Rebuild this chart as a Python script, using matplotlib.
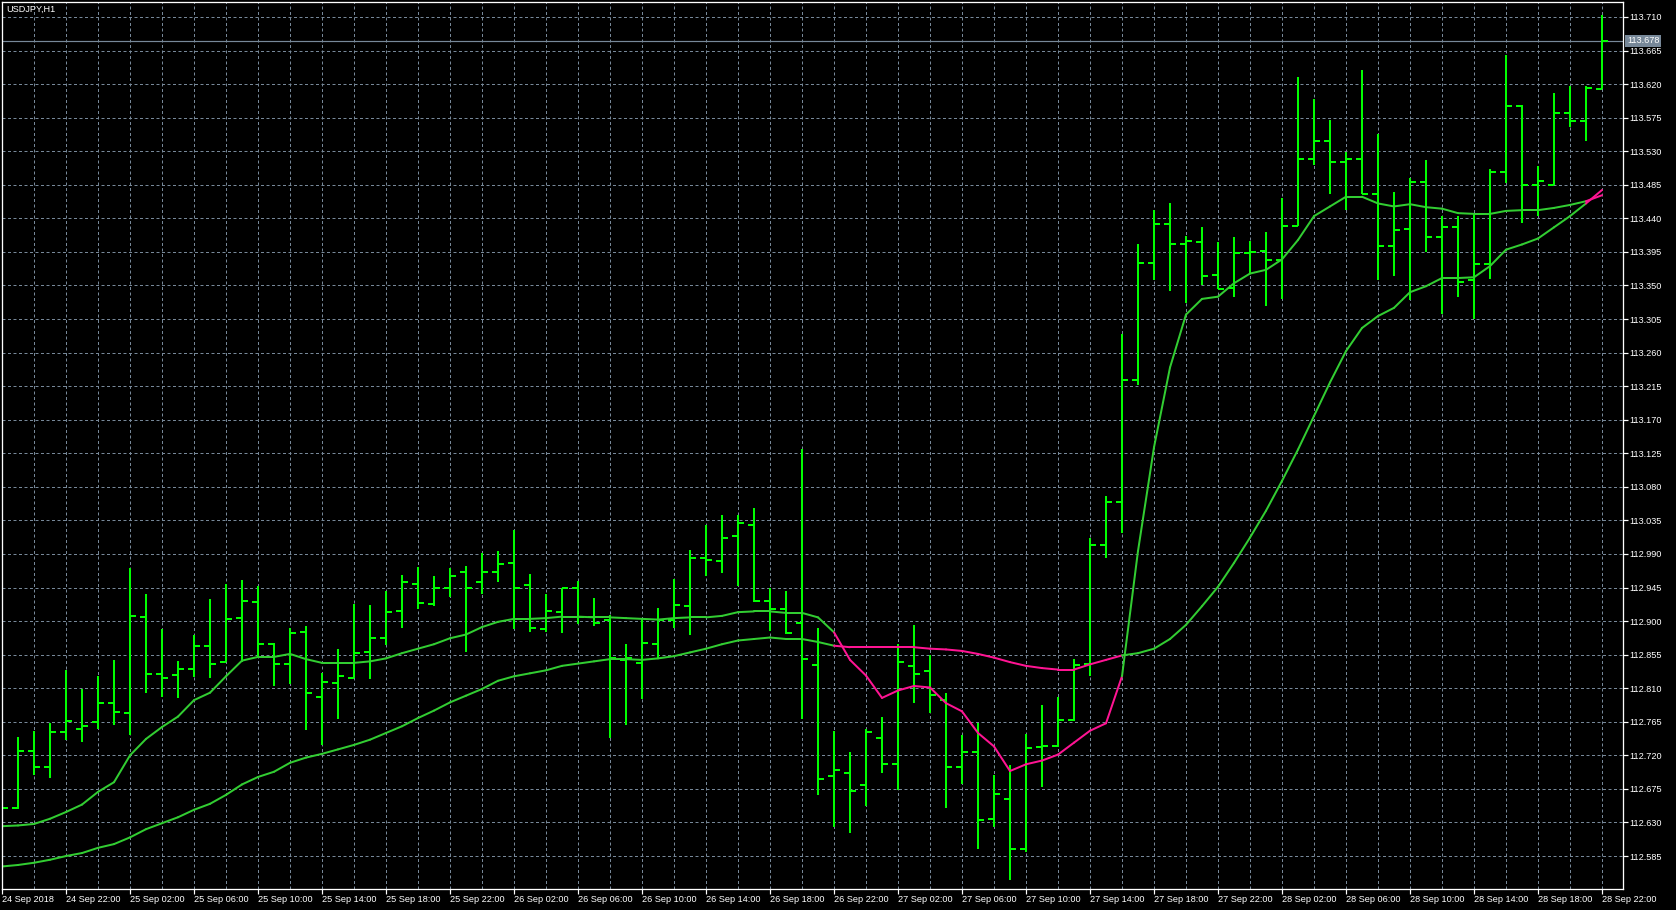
"""
USDJPY H1 bar chart with two moving averages, drawn in the MT4 terminal style.
"""

import matplotlib
matplotlib.use("Agg")
import matplotlib.pyplot as plt
from matplotlib.collections import LineCollection
import pandas as pd

SYMBOL = "USDJPY,H1"
START = "2018-09-24 18:00"
LAST_PRICE = 113.678

opens = [112.655, 112.650, 112.726, 112.705, 112.751, 112.755, 112.765, 112.790, 112.777, 112.905,
         112.829, 112.828, 112.836, 112.867, 112.845, 112.904, 112.926, 112.869, 112.843, 112.885,
         112.798, 112.817, 112.824, 112.859, 112.877, 112.914, 112.950, 112.923, 112.944, 112.966,
         112.952, 112.966, 112.978, 112.949, 112.890, 112.912, 112.944, 112.905, 112.901, 112.848,
         112.844, 112.869, 112.901, 112.920, 112.984, 112.981, 113.014, 113.029, 112.927, 112.916,
         112.897, 112.841, 112.692, 112.696, 112.680, 112.743, 112.708, 112.840, 112.833, 112.794,
         112.705, 112.725, 112.635, 112.662, 112.594, 112.731, 112.732, 112.767, 112.842, 113.002,
         113.060, 113.223, 113.380, 113.432, 113.406, 113.408, 113.364, 113.346, 113.393, 113.396,
         113.384, 113.430, 113.519, 113.544, 113.516, 113.520, 113.473, 113.403, 113.426, 113.489,
         113.415, 113.429, 113.358, 113.379, 113.502, 113.591, 113.485, 113.485, 113.581, 113.570,
         113.614]
highs = [112.668, 112.745, 112.752, 112.763, 112.834, 112.809, 112.826, 112.848, 112.971, 112.936,
         112.889, 112.846, 112.882, 112.929, 112.950, 112.955, 112.947, 112.871, 112.891, 112.894,
         112.830, 112.863, 112.923, 112.922, 112.941, 112.962, 112.973, 112.961, 112.971, 112.974,
         112.991, 112.994, 113.022, 112.963, 112.937, 112.945, 112.954, 112.931, 112.908, 112.869,
         112.904, 112.918, 112.957, 112.995, 113.029, 113.042, 113.042, 113.051, 112.945, 112.941,
         113.131, 112.891, 112.752, 112.724, 112.755, 112.771, 112.869, 112.895, 112.855, 112.803,
         112.747, 112.764, 112.693, 112.707, 112.749, 112.787, 112.798, 112.849, 113.011, 113.068,
         113.285, 113.406, 113.451, 113.460, 113.417, 113.429, 113.408, 113.415, 113.409, 113.422,
         113.467, 113.629, 113.600, 113.572, 113.529, 113.639, 113.553, 113.476, 113.494, 113.518,
         113.443, 113.443, 113.445, 113.506, 113.659, 113.592, 113.510, 113.608, 113.618, 113.617,
         113.712]
lows = [112.641, 112.648, 112.693, 112.689, 112.740, 112.738, 112.756, 112.761, 112.747, 112.803,
        112.798, 112.797, 112.825, 112.824, 112.845, 112.845, 112.852, 112.813, 112.816, 112.754,
        112.734, 112.769, 112.824, 112.822, 112.868, 112.891, 112.916, 112.920, 112.932, 112.859,
        112.936, 112.952, 112.889, 112.885, 112.885, 112.884, 112.896, 112.894, 112.743, 112.761,
        112.796, 112.850, 112.891, 112.882, 112.961, 112.965, 112.947, 112.926, 112.887, 112.883,
        112.769, 112.667, 112.624, 112.616, 112.652, 112.696, 112.673, 112.790, 112.777, 112.649,
        112.682, 112.594, 112.624, 112.553, 112.590, 112.677, 112.731, 112.766, 112.826, 112.984,
        113.018, 113.217, 113.358, 113.343, 113.326, 113.351, 113.345, 113.335, 113.367, 113.323,
        113.332, 113.430, 113.512, 113.473, 113.451, 113.473, 113.358, 113.363, 113.330, 113.395,
        113.312, 113.335, 113.305, 113.359, 113.488, 113.434, 113.443, 113.485, 113.562, 113.544,
        113.613]
closes = [112.650, 112.726, 112.705, 112.751, 112.766, 112.759, 112.790, 112.778, 112.907, 112.829,
          112.824, 112.836, 112.867, 112.843, 112.903, 112.927, 112.869, 112.843, 112.884, 112.803,
          112.818, 112.827, 112.857, 112.878, 112.912, 112.952, 112.924, 112.944, 112.961, 112.945,
          112.966, 112.976, 112.945, 112.891, 112.913, 112.944, 112.905, 112.898, 112.850, 112.850,
          112.871, 112.901, 112.922, 112.985, 112.982, 113.012, 113.031, 112.927, 112.916, 112.884,
          112.849, 112.688, 112.700, 112.672, 112.751, 112.708, 112.845, 112.829, 112.801, 112.704,
          112.725, 112.633, 112.668, 112.594, 112.730, 112.733, 112.767, 112.841, 113.002, 113.060,
          113.223, 113.380, 113.433, 113.406, 113.409, 113.363, 113.345, 113.394, 113.395, 113.384,
          113.430, 113.519, 113.544, 113.516, 113.520, 113.473, 113.403, 113.425, 113.489, 113.415,
          113.429, 113.355, 113.379, 113.502, 113.591, 113.485, 113.490, 113.581, 113.571, 113.615,
          113.678]

ma_fast = [112.625, 112.626, 112.628, 112.635, 112.644, 112.654, 112.671, 112.684, 112.720, 112.742,
           112.758, 112.772, 112.794, 112.804, 112.826, 112.847, 112.852, 112.852, 112.856, 112.849,
           112.844, 112.844, 112.844, 112.846, 112.850, 112.857, 112.863, 112.869, 112.877, 112.882,
           112.892, 112.899, 112.903, 112.903, 112.904, 112.906, 112.906, 112.905, 112.905, 112.904,
           112.903, 112.902, 112.904, 112.905, 112.905, 112.907, 112.912, 112.913, 112.913, 112.911,
           112.911, 112.905, 112.885, 112.848, 112.827, 112.797, 112.807, 112.813, 112.811, 112.790,
           112.779, 112.750, 112.732, 112.699, 112.708, 112.713, 112.721, 112.737, 112.753, 112.763,
           112.826, 112.994, 113.133, 113.240, 113.311, 113.332, 113.335, 113.353, 113.366, 113.371,
           113.385, 113.411, 113.443, 113.456, 113.469, 113.469, 113.460, 113.456, 113.459, 113.455,
           113.453, 113.447, 113.446, 113.446, 113.450, 113.451, 113.451, 113.454, 113.458, 113.463,
           113.471]
ma_slow = [112.571, 112.573, 112.576, 112.580, 112.585, 112.589, 112.596, 112.601, 112.610, 112.621,
           112.629, 112.637, 112.647, 112.655, 112.667, 112.681, 112.691, 112.698, 112.710, 112.717,
           112.722, 112.728, 112.734, 112.741, 112.750, 112.759, 112.770, 112.780, 112.791, 112.800,
           112.809, 112.820, 112.826, 112.830, 112.834, 112.840, 112.843, 112.846, 112.849, 112.849,
           112.848, 112.850, 112.853, 112.858, 112.863, 112.869, 112.874, 112.876, 112.878, 112.876,
           112.876, 112.872, 112.867, 112.865, 112.865, 112.865, 112.865, 112.865, 112.863, 112.862,
           112.860, 112.856, 112.851, 112.845, 112.840, 112.837, 112.835, 112.835, 112.842, 112.848,
           112.854, 112.857, 112.863, 112.876, 112.895, 112.920, 112.946, 112.978, 113.012, 113.048,
           113.088, 113.130, 113.175, 113.220, 113.262, 113.293, 113.309, 113.320, 113.341, 113.349,
           113.360, 113.360, 113.361, 113.376, 113.398, 113.405, 113.413, 113.428, 113.443, 113.460,
           113.478]

price_ticks = [112.585, 112.630, 112.675, 112.720, 112.765, 112.810, 112.855, 112.900, 112.945,
               112.990, 113.035, 113.080, 113.125, 113.170, 113.215, 113.260, 113.305, 113.350,
               113.395, 113.440, 113.485, 113.530, 113.575, 113.620, 113.665, 113.710]

BG = "#000000"
FG = "#ffffff"
BAR_COLOR = "#00ff00"
MA_UP = "#32cd32"
MA_DOWN = "#ff1493"
GRID = "#778899"
FONT = "Liberation Sans"

W, H, DPI = 1676, 910, 100
PX = 72 / DPI  # one pixel in points

plt.rcParams["lines.scale_dashes"] = False


def bar_segments(o, h, l, c, tick=0.37):
    segs = []
    for i in range(len(o)):
        segs.append([(i, l[i]), (i, h[i])])
        segs.append([(i - tick, o[i]), (i, o[i])])
        segs.append([(i, c[i]), (i + tick, c[i])])
    return segs


def ma_collections(fast, slow):
    """Segments coloured pink while the fast average sits under the slow one."""
    segs, colors = [], []
    for i in range(len(fast) - 1):
        col = MA_DOWN if fast[i + 1] < slow[i + 1] else MA_UP
        for s in (fast, slow):
            segs.append([(i, s[i]), (i + 1, s[i + 1])])
            colors.append(col)
    return segs, colors


fig = plt.figure(figsize=(W / DPI, H / DPI), dpi=DPI, facecolor=BG)
ax = fig.add_axes([2 / W, 21 / H, 1621 / W, 887 / H], facecolor=BG)

n = len(closes)
ax.set_xlim(0, (1623 - 2) / 16)
ax.set_ylim(112.5408, 113.7301)

grid_style = dict(color=GRID, lw=PX, linestyle=(0, (3 * PX, 2.5 * PX)), zorder=1)
for p in price_ticks:
    ax.axhline(p, **grid_style)
for i in range(2, n, 2):
    ax.axvline(i, **grid_style)

ax.axhline(LAST_PRICE, color=GRID, lw=PX * 1.2, zorder=1.5)

bars = LineCollection(bar_segments(opens, highs, lows, closes), colors=BAR_COLOR,
                      linewidths=2 * PX, capstyle="butt", zorder=3)
ax.add_collection(bars)

segs, cols = ma_collections(ma_fast, ma_slow)
ax.add_collection(LineCollection(segs, colors=cols, linewidths=2 * PX,
                                 capstyle="round", zorder=4))

# axes frame and ticks
for side in ["left", "right", "top", "bottom"]:
    ax.spines[side].set_color(FG)
    ax.spines[side].set_linewidth(1.3 * PX)
    ax.spines[side].set_zorder(6)

times = pd.date_range(START, periods=n, freq="h")
xt = list(range(0, n, 4))
xl = [times[i].strftime("%d %b %H:%M") for i in xt]
xl[0] = times[0].strftime("%d %b %Y")
ax.set_xticks(xt)
ax.set_xticklabels(xl)
for lab in ax.get_xticklabels():
    lab.set_horizontalalignment("left")

ax.yaxis.tick_right()
ax.set_yticks(price_ticks)
ax.set_yticklabels([f"{p:.3f}" for p in price_ticks])
ax.tick_params(axis="both", colors=FG, direction="out", length=5 * PX, width=1.2 * PX,
               labelsize=6.6, pad=1)
for lab in ax.get_xticklabels() + ax.get_yticklabels():
    lab.set_family(FONT)

fig.text(6 / W, 1 - 9.5 / H, SYMBOL, color=FG, fontsize=6.6, family=FONT,
         ha="left", va="center")
ax.text(1.0 + 4 / 1621, LAST_PRICE, f"{LAST_PRICE:.3f}", transform=ax.get_yaxis_transform(),
        color=FG, fontsize=6.6, family=FONT, ha="left", va="center", zorder=7,
        bbox=dict(boxstyle="square,pad=0.18", facecolor=GRID, edgecolor="none"),
        clip_on=False)

fig.savefig("out.png", dpi=DPI, facecolor=BG)
